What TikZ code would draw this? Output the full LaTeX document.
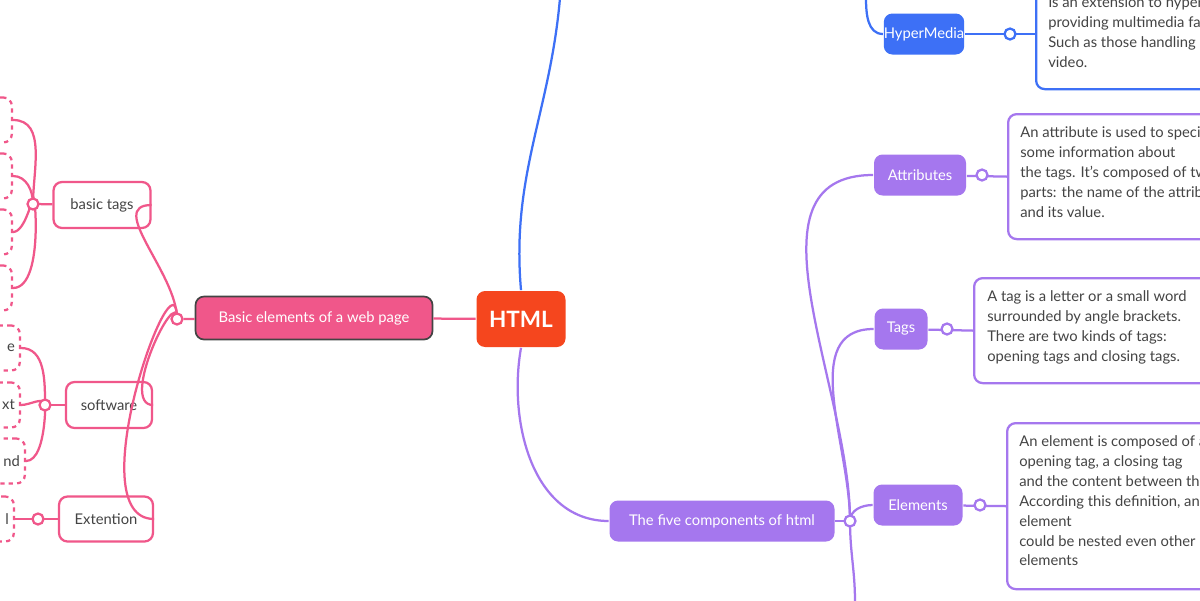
\documentclass[tikz,border=0pt]{standalone}
\usepackage{fontspec}
\setmainfont{Lato}
\usetikzlibrary{positioning}
\definecolor{pinkc}{HTML}{F0578A}
\definecolor{bluec}{HTML}{3D70F6}
\definecolor{purpc}{HTML}{A577EE}
\definecolor{orangec}{HTML}{F5461E}
\definecolor{textc}{HTML}{444444}
\tikzset{
    x=0.025cm, y=-0.025cm,
    font={\fontsize{10.5}{14.2}\selectfont},
    topic/.style={rectangle, rounded corners=1.2ex, text=white, inner sep=0pt, line width=1.2pt},
    sub/.style={rectangle, rounded corners=1.2ex, draw=pinkc, fill=white, text=textc,
        line width=1.6pt, inner sep=0pt},
    leafbox/.style={rectangle, rounded corners=1.2ex, draw=pinkc, dashed, fill=white,
        text=textc, line width=1.6pt, inner sep=0pt, minimum height=45*0.025cm},
    notebox/.style={rectangle, rounded corners=1.2ex, fill=white, text=textc,
        line width=1.6pt, anchor=north west, align=left, inner sep=0pt},
    knob/.style={circle, draw, fill=white, line width=1.6pt, minimum size=11*0.025cm, inner sep=0pt},
    link/.style={line width=1.6pt},
}
\begin{document}
\begin{tikzpicture}
    \clip (0,0) rectangle (1200,600);
    \fill[white] (0,0) rectangle (1200,600);

    % root
    \node[topic, fill=orangec, minimum width=89*0.025cm, minimum height=56*0.025cm,
        font={\fontsize{16}{18}\selectfont\bfseries}] (html) at (521,319) {HTML};

    % left branch
    \node[topic, fill=pinkc, draw=textc, minimum width=237*0.025cm, minimum height=43*0.025cm]
        (basic) at (314,318) {Basic elements of a web page};
    \draw[link, pinkc] (basic) -- (html);
    \node[sub, minimum width=97*0.025cm, minimum height=46*0.025cm] (tags) at (102,205) {basic tags};
    \node[sub, minimum width=86*0.025cm, minimum height=46*0.025cm] (soft) at (109,405) {software};
    \node[sub, minimum width=94*0.025cm, minimum height=45*0.025cm] (ext) at (106,519) {Extention};
    \coordinate (kb) at (177,319);
    \foreach \n in {tags,soft,ext}
        \draw[link, pinkc] (kb) to[out=90,in=180] (\n.east);
    \node[knob, draw=pinkc] (kbasic) at (kb) {};
    \draw[link, pinkc] (kbasic) -- (basic);

    % leaves
    \foreach \y [count=\i] in {120,176,232,288}
        \node[leafbox, minimum width=40*0.025cm, anchor=east] (t\i) at (13,\y) {};
    \node[leafbox, minimum width=40*0.025cm, anchor=east, text width=30*0.025cm, align=right] (s1) at (21,348) {e};
    \node[leafbox, minimum width=40*0.025cm, anchor=east, text width=30*0.025cm, align=right] (s2) at (21,405) {xt};
    \node[leafbox, minimum width=40*0.025cm, anchor=east, text width=30*0.025cm, align=right] (s3) at (26,461) {nd};
    \node[leafbox, minimum width=40*0.025cm, anchor=east, text width=30*0.025cm, align=right] (e1) at (15,519) {l};
    \coordinate (kt) at (33,204);
    \coordinate (ks) at (45,405);
    \foreach \n in {t1,t2,t3,t4}
        \draw[link, pinkc] (kt) to[out=90,in=0] (\n.east);
    \foreach \n in {s1,s2,s3}
        \draw[link, pinkc] (ks) to[out=90,in=0] (\n.east);
    \draw[link, pinkc] (e1) -- (ext);
    \draw[link, pinkc] (kt) -- (tags);
    \draw[link, pinkc] (ks) -- (soft);
    \node[knob, draw=pinkc] (ktags) at (kt) {};
    \node[knob, draw=pinkc] (ksoft) at (ks) {};
    \node[knob, draw=pinkc] (kext) at (38,519) {};

    % blue branch
    \coordinate (btop) at (560,-2);
    \draw[link, bluec] (html.north) to[out=95,in=-95] (btop);
    \node[topic, fill=bluec, minimum width=80*0.025cm, minimum height=41*0.025cm] (hyper) at (924,34) {HyperMedia};
    \coordinate (hup) at (866,-2);
    \draw[link, bluec] (hup) to[out=-90,in=180] (hyper.west);
    \node[notebox, draw=bluec, minimum width=250*0.025cm, minimum height=120*0.025cm] (nhyper) at (1035,-32) {};
    \draw[link, bluec] (hyper) -- (1035,34);
    \node[knob, draw=bluec] (khyper) at (1010,34) {};
    \node[anchor=north west, align=left, text=textc, inner sep=0pt] at (1048,-4)
        {Is an extension to hypertext\\providing multimedia facilities\\Such as those handling sound and\\video.};

    % purple branch
    \node[topic, fill=purpc, minimum width=225*0.025cm, minimum height=41*0.025cm] (five) at (722,521) {The five components of html};
    \draw[link, purpc] (html.south) to[out=-100,in=180] (five.west);
    \node[topic, fill=purpc, minimum width=92*0.025cm, minimum height=41*0.025cm] (attr) at (920,175) {Attributes};
    \node[topic, fill=purpc, minimum width=53*0.025cm, minimum height=41*0.025cm] (tg) at (901,329) {Tags};
    \node[topic, fill=purpc, minimum width=89*0.025cm, minimum height=41*0.025cm] (elem) at (918,505) {Elements};
    \coordinate (kf) at (850,521);
    \coordinate (pdown) at (855,602);
    \foreach \n in {attr,tg,elem}
        \draw[link, purpc] (kf) to[out=90,in=180] (\n.west);
    \draw[link, purpc] (kf) to[out=-90,in=90] (pdown);
    \draw[link, purpc] (five) -- (kf);
    \node[knob, draw=purpc] (kfive) at (kf) {};
    \node[notebox, draw=purpc, minimum width=260*0.025cm, minimum height=125*0.025cm] (nattr) at (1007,113) {};
    \node[notebox, draw=purpc, minimum width=260*0.025cm, minimum height=105*0.025cm] (ntg) at (973,277) {};
    \node[notebox, draw=purpc, minimum width=260*0.025cm, minimum height=166*0.025cm] (nelem) at (1006,422) {};
    \draw[link, purpc] (attr) -- (nattr.west);
    \draw[link, purpc] (tg) -- (ntg.west);
    \draw[link, purpc] (elem) -- (nelem.west);
    \node[knob, draw=purpc] (kattr) at (982,175) {};
    \node[knob, draw=purpc] (ktg) at (947,329) {};
    \node[knob, draw=purpc] (kelem) at (980,505) {};
    \node[anchor=north west, align=left, text=textc, inner sep=0pt] at (1020,126)
        {An attribute is used to specify\\some information about\\the tags. It’s composed of two\\parts: the name of the attribute\\and its value.};
    \node[anchor=north west, align=left, text=textc, inner sep=0pt] at (987,290)
        {A tag is a letter or a small word\\surrounded by angle brackets.\\There are two kinds of tags:\\opening tags and closing tags.};
    \node[anchor=north west, align=left, text=textc, inner sep=0pt] at (1019,435)
        {An element is composed of an\\opening tag, a closing tag\\and the content between them.\\According this definition, an\\element\\could be nested even other\\elements};
\end{tikzpicture}
\end{document}
